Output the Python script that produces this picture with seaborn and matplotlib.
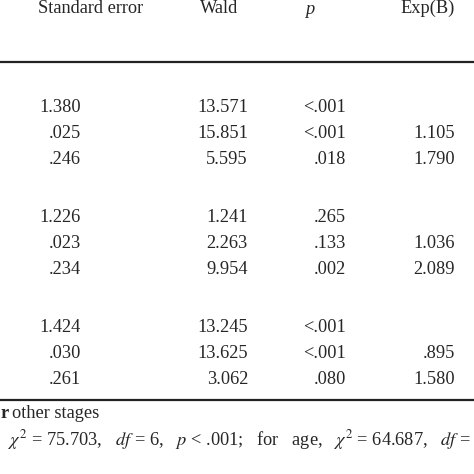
import matplotlib
matplotlib.use('agg')
import matplotlib.pyplot as plt
import seaborn as sns

sns.set_theme(style="white")
plt.rcParams['font.family'] = ['Liberation Serif', 'DejaVu Serif']
plt.rcParams['mathtext.fontset'] = 'stix'

headers = ["Standard error", "Wald", "p", "Exp(B)"]
se = ["1.380", ".025", ".246", "1.226", ".023", ".234", "1.424", ".030", ".261"]
wald = ["13.571", "15.851", "5.595", "1.241", "2.263", "9.954", "13.245", "13.625", "3.062"]
pval = ["<.001", "<.001", ".018", ".265", ".133", ".002", "<.001", "<.001", ".080"]
expb = ["", "1.105", "1.790", "", "1.036", "2.089", "", ".895", "1.580"]
row_y = [107, 133, 159, 217, 243, 269, 327, 353, 379]

fig = plt.figure(figsize=(4.74, 4.74), dpi=100)
ax = fig.add_axes([0, 0, 1, 1])
ax.set_xlim(0, 474)
ax.set_ylim(474, 0)
ax.axis('off')

fs = 13.2
ax.text(38, 8, headers[0], fontsize=fs, va='center', ha='left')
ax.text(200, 8, headers[1], fontsize=fs, va='center', ha='left')
ax.text(305, 9, headers[2], fontsize=fs, va='center', ha='left', style='italic')
ax.text(455, 8, headers[3], fontsize=fs, va='center', ha='right')

ax.plot([0, 474], [62, 62], color='#222222', lw=1.6)
ax.plot([0, 474], [400, 400], color='#222222', lw=1.6)

for y, a, b, c, d in zip(row_y, se, wald, pval, expb):
    ax.text(81, y, a, fontsize=fs, va='center', ha='right')
    ax.text(248, y, b, fontsize=fs, va='center', ha='right')
    ax.text(346, y, c, fontsize=fs, va='center', ha='right')
    ax.text(455, y, d, fontsize=fs, va='center', ha='right')

ax.text(0, 413, "r", fontsize=fs, va='center', ha='left', weight='bold')
ax.text(12, 413, "other stages", fontsize=fs, va='center', ha='left')
ax.text(8, 440, r"$\chi^2$ = 75.703,   $df$ = 6,   $p$ < .001;   for   age,   $\chi^2$ = 64.687,   $df$ =",
        fontsize=fs, va='center', ha='left')

fig.savefig('out.png', dpi=100, facecolor='white')
